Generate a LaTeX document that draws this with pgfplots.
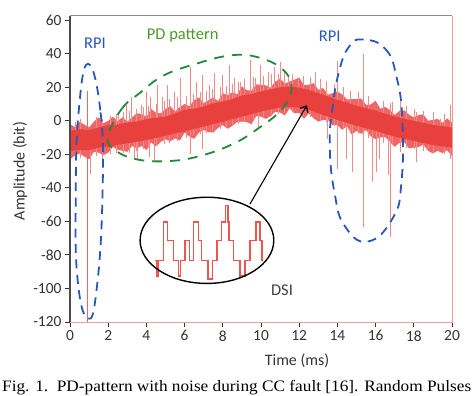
\documentclass[border=0pt]{standalone}
\usepackage{fontspec}
\setmainfont{Carlito}
\newfontfamily\capfont{Liberation Serif}
\usepackage{graphicx}
\usepackage{pgfplots}
\pgfplotsset{compat=1.18}
\usetikzlibrary{arrows.meta}
\definecolor{bandred}{HTML}{E8403C}
\definecolor{fringered}{HTML}{EE6666}
\definecolor{spikered}{HTML}{F28A8A}
\definecolor{dsired}{HTML}{EC5550}
\definecolor{rpiblue}{HTML}{2A56B8}
\definecolor{pdgreen}{HTML}{1F8A3C}
\definecolor{pdtext}{HTML}{4C9A2A}
\definecolor{salmon}{HTML}{E8A09A}
\begin{document}
\begin{tikzpicture}
\path[use as bounding box] (0,0) rectangle (474bp,396bp);
\begin{axis}[
  at={(70bp,74bp)}, anchor=south west, scale only axis,
  width=382bp, height=306bp,
  xmin=0, xmax=20, ymin=-120, ymax=62.5,
  xtick={0,2,...,20}, xticklabels={0,2,4,6,8,10,12,14,16,18,20},
  ytick={-120,-100,...,60}, yticklabels={-120,-100,-80,-60,-40,-20,0,20,40,60},
  tick align=outside, xtick pos=left, ytick pos=left,
  major tick length=5bp,
  tick style={black!80, line width=1pt},
  axis line style={draw=none},
  tick label style={font=\fontsize{15.5}{18}\selectfont, text=black!80},
  clip=false,
  unbounded coords=jump,
]
% outer fringe of the noise band
\addplot[fill=fringered, draw=none] coordinates {
(0,-2)(0.25,-3.75)(0.5,-0.5)(0.75,-2.25)(1,-4)(1.25,-0.5)(1.5,2)(1.75,-1.5)(2,0)(2.25,2.4)(2.5,-0.25)(2.75,2.1)(3,-0.5)(3.25,2)(3.5,4.5)(3.75,4)(4,2.5)(4.25,7.1)(4.5,4.75)(4.75,4.4)(5,7)(5.25,8.75)(5.5,5.5)(5.75,8.25)(6,10)(6.25,8.6)(6.5,12.25)(6.75,13.9)(7,10.5)(7.25,12.25)(7.5,14)(7.75,11.75)(8,16.5)(8.25,15.25)(8.5,17)(8.75,15.75)(9,20.5)(9.25,18.25)(9.5,18)(9.75,21.75)(10,21.5)(10.25,21.1)(10.5,19.75)(10.75,23.4)(11,25)(11.25,22.2)(11.5,23.4)(11.75,24.5)(12,25.8)(12.25,21.2)(12.5,21.5)(12.75,22.5)(13,18.5)(13.25,19.5)(13.5,15.5)(13.75,16.5)(14,17.5)(14.25,15.6)(14.5,12.75)(14.75,12.9)(15,13)(15.25,13.25)(15.5,9.5)(15.75,9.75)(16,12)(16.25,7.1)(16.5,8.25)(16.75,6.4)(17,3.5)(17.25,5.9)(17.5,6.25)(17.75,3.6)(18,2)(18.25,3.4)(18.5,3.75)(18.75,0.1)(19,0.5)(19.25,1.1)(19.5,-1.25)(19.75,1.4)(20,-1)
(20,-21)(19.75,-17.6)(19.5,-19.25)(19.25,-17.9)(19,-19.5)(18.75,-17.9)(18.5,-14.25)(18.25,-15.6)(18,-16)(17.75,-16.4)(17.5,-12.75)(17.25,-13.1)(17,-15.5)(16.75,-12.6)(16.5,-9.75)(16.25,-9.9)(16,-11)(15.75,-9.25)(15.5,-5.5)(15.25,-7.75)(15,-6)(14.75,-8.1)(14.5,-3.25)(14.25,-5.4)(14,-2.5)(13.75,-2.5)(13.5,0.5)(13.25,0.5)(13,-0.5)(12.75,1.5)(12.5,4.5)(12.25,1.2)(12,4.8)(11.75,4.5)(11.5,7.4)(11.25,3.2)(11,5)(10.75,5.4)(10.5,2.75)(10.25,1.1)(10,2.5)(9.75,2.75)(9.5,-2)(9.25,-0.75)(9,-0.5)(8.75,-0.75)(8.5,-3)(8.25,-4.75)(8,-2.5)(7.75,-4.25)(7.5,-7)(7.25,-6.75)(7,-5.5)(6.75,-7.1)(6.5,-10.75)(6.25,-9.4)(6,-7)(5.75,-11.75)(5.5,-10.5)(5.25,-12.25)(5,-11)(4.75,-12.6)(4.5,-15.25)(4.25,-12.9)(4,-17.5)(3.75,-15)(3.5,-16.5)(3.25,-15)(3,-18.5)(2.75,-17.9)(2.5,-17.25)(2.25,-15.6)(2,-19)(1.75,-20.5)(1.5,-19)(1.25,-18.5)(1,-23)(0.75,-21.25)(0.5,-19.5)(0.25,-20.75)(0,-23)
};
% isolated pulses and fuzz
\addplot[spikered, line width=0.6pt] coordinates {
(0.3,-24)(0.3,-1)(0.3,nan) (0.55,-22)(0.55,1)(0.55,nan) (1.4,-21)(1.4,2)(1.4,nan) (1.7,-22)(1.7,1)(1.7,nan)
(2.1,-20)(2.1,3)(2.1,nan) (2.4,-19)(2.4,4)(2.4,nan) (2.8,-19)(2.8,5)(2.8,nan) (3.1,-19)(3.1,6)(3.1,nan)
(3.45,-18)(3.45,7)(3.45,nan) (3.85,-17)(3.85,8)(3.85,nan) (4.1,-16)(4.1,9)(4.1,nan) (4.5,-15)(4.5,10)(4.5,nan)
(4.95,-14)(4.95,12)(4.95,nan) (5.2,-13)(5.2,13)(5.2,nan) (5.6,-12)(5.6,14)(5.6,nan) (6.1,-10)(6.1,15)(6.1,nan)
(6.45,-9)(6.45,16)(6.45,nan) (6.8,-8)(6.8,17)(6.8,nan) (7.15,-7)(7.15,18)(7.15,nan) (7.45,-6)(7.45,19)(7.45,nan)
(7.85,-5)(7.85,20)(7.85,nan) (8.2,-4)(8.2,21)(8.2,nan) (8.5,-3)(8.5,22)(8.5,nan) (8.8,-2)(8.8,23)(8.8,nan)
(9.15,-1)(9.15,25)(9.15,nan) (9.6,1)(9.6,26)(9.6,nan) (10.1,2)(10.1,27)(10.1,nan) (10.55,3)(10.55,28)(10.55,nan)
(10.9,4)(10.9,28)(10.9,nan) (11.2,4)(11.2,29)(11.2,nan) (11.65,5)(11.65,28)(11.65,nan) (12.2,3)(12.2,27)(12.2,nan)
(12.6,2)(12.6,26)(12.6,nan) (13.1,0)(13.1,25)(13.1,nan) (13.4,-1)(13.4,24)(13.4,nan) (13.85,-3)(13.85,22)(13.85,nan)
(14.3,-5)(14.3,20)(14.3,nan) (14.7,-7)(14.7,18)(14.7,nan) (15.1,-8)(15.1,17)(15.1,nan) (15.6,-10)(15.6,15)(15.6,nan)
(16.4,-13)(16.4,12)(16.4,nan) (16.9,-14)(16.9,11)(16.9,nan) (17.6,-16)(17.6,9)(17.6,nan) (18.0,-17)(18.0,7)(18.0,nan)
(18.5,-18)(18.5,6)(18.5,nan) (19.0,-19)(19.0,5)(19.0,nan) (19.6,-20)(19.6,4)(19.6,nan)
};
\addplot[spikered, line width=1pt] coordinates {
(1.05,-11)(1.05,-32)(1.05,nan)
(2.53,-8.2)(2.53,4.4)(2.53,nan) (2.97,-7.5)(2.97,9.6)(2.97,nan) (3.2,-7.1)(3.2,14.4)(3.2,nan)
(3.37,-6.8)(3.37,-23.5)(3.37,nan) (3.55,-6.4)(3.55,-23)(3.55,nan)
(3.72,-6.1)(3.72,9.6)(3.72,nan) (3.98,-5.5)(3.98,17.4)(3.98,nan) (4.16,-5.1)(4.16,-21.6)(4.16,nan)
(4.24,-4.9)(4.24,14.4)(4.24,nan) (4.4,-4.5)(4.4,-23.5)(4.4,nan) (4.59,-4)(4.59,21.4)(4.59,nan)
(4.85,-3.4)(4.85,14.4)(4.85,nan) (5.1,-2.7)(5.1,21.4)(5.1,nan) (5.45,-1.7)(5.45,17.4)(5.45,nan)
(5.8,-0.6)(5.8,25.3)(5.8,nan) (6.33,-19.6)(6.33,32.3)(6.33,nan) (6.6,1.5)(6.6,23.4)(6.6,nan)
(6.95,-16.6)(6.95,27.3)(6.95,nan) (7.3,3.4)(7.3,21.4)(7.3,nan) (7.56,4.2)(7.56,28.3)(7.56,nan)
(8,5.5)(8,27.3)(8,nan) (8.35,6.5)(8.35,33.3)(8.35,nan) (8.6,7.3)(8.6,25.3)(8.6,nan)
(8.95,8.4)(8.95,23.4)(8.95,nan) (9.47,9.9)(9.47,36.3)(9.47,nan) (9.73,10.7)(9.73,25.3)(9.73,nan)
(9.86,11)(9.86,-5)(9.86,nan)
(9.95,11.4)(9.95,33.3)(9.95,nan) (10.4,12.5)(10.4,29.3)(10.4,nan) (10.73,13.3)(10.73,32.3)(10.73,nan)
(11,14)(11,35.3)(11,nan) (11.43,14.3)(11.43,27.5)(11.43,nan) (11.95,13.9)(11.95,25.3)(11.95,nan)
(12.85,10.9)(12.85,29.3)(12.85,nan) (13.5,8.5)(13.5,-10.8)(13.5,nan)
(13.98,-28.7)(13.98,35.5)(13.98,nan) (14.5,4.6)(14.5,-22.8)(14.5,nan) (14.8,3.7)(14.8,-30.5)(14.8,nan)
(15.86,0.4)(15.86,-36.5)(15.86,nan) (16.05,-0.2)(16.05,-30.5)(16.05,nan) (16.2,-0.7)(16.2,-22.8)(16.2,nan)
(16.65,-2.3)(16.65,-32.5)(16.65,nan)
(17.3,-18.6)(17.3,14.4)(17.3,nan) (18.15,-24.5)(18.15,5.4)(18.15,nan) (18.75,-16.6)(18.75,-7.9)(18.75,nan)
(19.4,-14.6)(19.4,1.2)(19.4,nan) (19.9,-22.8)(19.9,9.6)(19.9,nan) (20,-10)(20,11)(20,nan)
};
% large random pulses (RPI)
\addplot[fringered, line width=1.6pt] coordinates {(0.92,18)(0.92,-120)};
\addplot[spikered, line width=1.2pt] coordinates {(15.35,-63.5)(15.35,40)(15.35,nan)(16.8,-69.5)(16.8,10.4)};
% dense core of the band
\addplot[fill=bandred, draw=none] coordinates {
(0,-6)(0.5,-5)(1,-5.5)(1.5,-4)(2,-2.5)(2.5,-2.25)(3,-1)(3.5,-0.5)(4,1)(4.5,1.75)(5,2.5)(5.5,4.5)(6,6.5)(6.5,7.25)(7,8.5)(7.5,10.5)(8,11.5)(8.5,13)(9,15)(9.5,16)(10,17.5)(10.5,18.75)(11,20)(11.5,20.4)(12,19.8)(12.5,18.5)(13,16.5)(13.5,14.5)(14,12.5)(14.5,10.75)(15,9)(15.5,7.5)(16,6)(16.5,4.25)(17,2.5)(17.5,1.25)(18,0)(18.5,-1.25)(19,-2.5)(19.5,-3.25)(20,-4)
(20,-16)(19.5,-15.25)(19,-14.5)(18.5,-13.25)(18,-12)(17.5,-10.75)(17,-9.5)(16.5,-7.75)(16,-6)(15.5,-4.5)(15,-3)(14.5,-1.25)(14,0.5)(13.5,2.5)(13,4.5)(12.5,6.5)(12,7.8)(11.5,8.4)(11,8)(10.5,6.75)(10,5.5)(9.5,4)(9,2.5)(8.5,1)(8,-0.5)(7.5,-2)(7,-3.5)(6.5,-4.75)(6,-6.5)(5.5,-7.5)(5,-9)(4.5,-10.25)(4,-11.5)(3.5,-12.5)(3,-13.5)(2.5,-14.25)(2,-15.5)(1.5,-16)(1,-17.5)(0.5,-17.5)(0,-18)
};
% DSI inset waveform
\addplot[const plot, dsired, line width=1.6pt] coordinates {
(4.45,-83.4)(4.54,-92.4)(4.62,-83.4)(4.89,-60.5)(5.10,-71.5)(5.41,-83.4)(5.67,-92.4)(5.79,-83.4)(6.02,-71.5)(6.25,-83.4)(6.46,-60.5)(6.72,-71.5)(6.89,-83.4)(7.24,-94.4)(7.47,-83.4)(7.71,-71.5)(7.94,-60.5)(8.15,-50.5)(8.26,-60.5)(8.34,-71.5)(8.55,-83.4)(8.90,-92.4)(9.16,-83.4)(9.42,-71.5)(9.74,-60.5)(9.95,-71.5)(10.05,-83.4)(10.12,-83.4)
};
% annotations
\draw[rpiblue, line width=1.8pt, dash pattern=on 9pt off 6.5pt] plot[smooth cycle, tension=0.8] coordinates {(axis cs:0.94,34)(axis cs:1.6,5)(axis cs:1.7,-45)(axis cs:1.4,-100)(axis cs:0.94,-118)(axis cs:0.4,-95)(axis cs:0.3,-45)(axis cs:0.45,5)};
\draw[rpiblue, line width=1.8pt, dash pattern=on 9pt off 6.5pt] plot[smooth cycle, tension=0.8] coordinates {(axis cs:15.3,48.5)(axis cs:16.5,43)(axis cs:17.1,26)(axis cs:17.4,0)(axis cs:17.35,-37)(axis cs:16.9,-58)(axis cs:15.6,-72)(axis cs:14.4,-63)(axis cs:13.85,-43)(axis cs:13.6,-15)(axis cs:13.75,8)(axis cs:14.1,30)(axis cs:14.6,44)};
\draw[pdgreen, line width=1.8pt, dash pattern=on 10pt off 8pt] plot[smooth cycle, tension=0.7] coordinates {(axis cs:2.0,-9)(axis cs:2.7,7)(axis cs:3.7,17)(axis cs:4.9,27)(axis cs:6.6,34)(axis cs:8.4,39)(axis cs:9.8,38)(axis cs:11.1,31)(axis cs:11.6,20)(axis cs:11.1,7)(axis cs:9.8,-5)(axis cs:8.5,-14)(axis cs:6.8,-21)(axis cs:5.2,-24)(axis cs:3.5,-23)(axis cs:2.3,-17)};
\draw[black, line width=1.4pt] (axis cs:7.17,-71.3) ellipse [x radius=3.5, y radius=25.7];
\draw[black, line width=1.1pt, -{Straight Barb[length=5pt, width=9pt, line width=1.3pt]}] (axis cs:9.42,-49.7) -- (axis cs:12.4,9.2);
\node[rpiblue, font=\fontsize{16.5}{18}\selectfont] at (axis cs:1.31,46.2) {RPI};
\node[rpiblue, font=\fontsize{16.5}{18}\selectfont] at (axis cs:13.6,50.4) {RPI};
\node[pdtext, font=\fontsize{16.5}{18}\selectfont] at (axis cs:5.9,51) {PD pattern};
\node[black!75, font=\fontsize{16.5}{18}\selectfont] at (axis cs:11.1,-101.2) {DSI};
% frame
\draw[black!70, line width=1.2pt] (rel axis cs:0,0) -- (rel axis cs:0,1);
\draw[black!45, line width=1pt] (rel axis cs:0,1) -- (rel axis cs:1,1);
\draw[salmon, line width=1pt] (rel axis cs:1,1) -- (rel axis cs:1,0) -- (rel axis cs:0,0);
\end{axis}
\node[rotate=90, black!80, font=\fontsize{16}{18}\selectfont] at (20bp,225bp) {Amplitude (bit)};
\node[black!80, font=\fontsize{16}{18}\selectfont] at (297bp,35bp) {Time (ms)};
\node[anchor=base west, inner sep=0pt] at (2bp,4.5bp) {\resizebox{469bp}{\height}{\capfont\fontsize{16}{18}\selectfont Fig. 1.\ \ PD-pattern with noise during CC fault [16]. Random Pulses}};
\end{tikzpicture}
\end{document}
